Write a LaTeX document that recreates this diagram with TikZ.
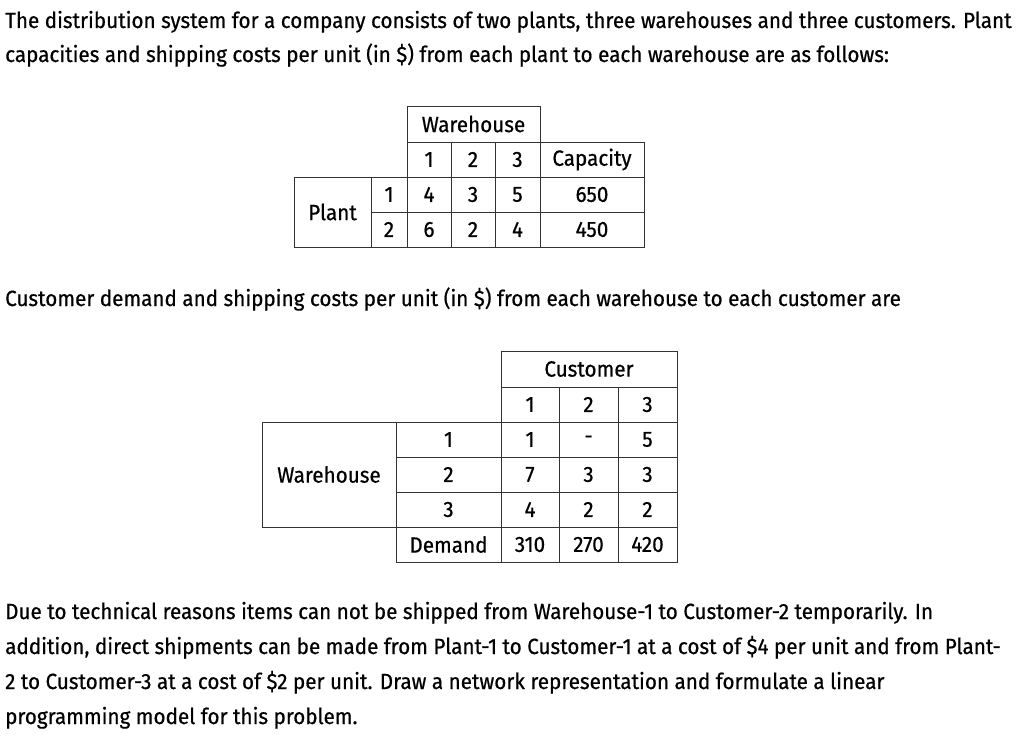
\documentclass[tikz,border=0pt]{standalone}
\usepackage{fontspec}
\setmainfont[FakeStretch=0.94,FakeBold=0.6]{Fira Sans}
\begin{document}
\begin{tikzpicture}[x=1pt,y=-1pt,
  txt/.style={anchor=base west,inner sep=0pt,font=\fontsize{22}{24}\selectfont},
  cell/.style={anchor=center,inner sep=0pt,font=\fontsize{22}{24}\selectfont},
  grid/.style={draw=black!80,line width=0.8pt}]
\useasboundingbox (0,0) rectangle (1024,749);
\node[txt] (l1) at (5,28) {The distribution system for a company consists of two plants, three warehouses and three customers. Plant};
\node[txt] (l2) at (5,62) {capacities and shipping costs per unit (in \$) from each plant to each warehouse are as follows:};
\node[txt] (l3) at (5,306) {Customer demand and shipping costs per unit (in \$) from each warehouse to each customer are};
\node[txt] (l4) at (5,619) {Due to technical reasons items can not be shipped from Warehouse-1 to Customer-2 temporarily. In};
\node[txt] (l5) at (5,654) {addition, direct shipments can be made from Plant-1 to Customer-1 at a cost of \$4 per unit and from Plant-};
\node[txt] (l6) at (5,689) {2 to Customer-3 at a cost of \$2 per unit. Draw a network representation and formulate a linear};
\node[txt] (l7) at (5,724) {programming model for this problem.};
% table 1
\draw[grid] (407,106) rectangle (540,142);
\draw[grid] (407,142) rectangle (644,247);
\draw[grid] (294,177) rectangle (407,247);
\draw[grid] (407,177) -- (644,177) (371,212) -- (644,212) (371,177) -- (371,247);
\draw[grid] (451,142) -- (451,247) (495,142) -- (495,247) (540,142) -- (540,247);
\node[cell] (t1w) at (473.5,124) {Warehouse};
\node[cell] (t1a) at (429,159.5) {1};
\node[cell] (t1b) at (473,159.5) {2};
\node[cell] (t1c) at (517.5,159.5) {3};
\node[cell] (t1cap) at (592,159.5) {Capacity};
\node[cell] (t1p) at (332.5,212) {Plant};
\node[cell] (t1r1) at (389,194.5) {1};
\node[cell] (t1r2) at (389,229.5) {2};
\node[cell] (c11) at (429,194.5) {4};
\node[cell] (c12) at (473,194.5) {3};
\node[cell] (c13) at (517.5,194.5) {5};
\node[cell] (c14) at (592,194.5) {650};
\node[cell] (c21) at (429,229.5) {6};
\node[cell] (c22) at (473,229.5) {2};
\node[cell] (c23) at (517.5,229.5) {4};
\node[cell] (c24) at (592,229.5) {450};
% table 2
\draw[grid] (501,351) rectangle (677,387);
\draw[grid] (501,387) rectangle (677,562);
\draw[grid] (262,422) rectangle (396,527);
\draw[grid] (396,422) rectangle (501,562);
\draw[grid] (501,422) -- (677,422) (396,457) -- (677,457) (396,492) -- (677,492) (396,527) -- (677,527);
\draw[grid] (559,387) -- (559,562) (618,387) -- (618,562);
\node[cell] (cu) at (589,369) {Customer};
\node[cell] (h1) at (530,404.5) {1};
\node[cell] (h2) at (588.5,404.5) {2};
\node[cell] (h3) at (647.5,404.5) {3};
\node[cell] (wh) at (329,474.5) {Warehouse};
\node[cell] (r1) at (448.5,439.5) {1};
\node[cell] (r2) at (448.5,474.5) {2};
\node[cell] (r3) at (448.5,509.5) {3};
\node[cell] (rd) at (448.5,544.5) {Demand};
\node[cell] (d11) at (530,439.5) {1};
\node[cell] (d12) at (588.5,439.5) {-};
\node[cell] (d13) at (647.5,439.5) {5};
\node[cell] (d21) at (530,474.5) {7};
\node[cell] (d22) at (588.5,474.5) {3};
\node[cell] (d23) at (647.5,474.5) {3};
\node[cell] (d31) at (530,509.5) {4};
\node[cell] (d32) at (588.5,509.5) {2};
\node[cell] (d33) at (647.5,509.5) {2};
\node[cell] (dd1) at (530,544.5) {310};
\node[cell] (dd2) at (588.5,544.5) {270};
\node[cell] (dd3) at (647.5,544.5) {420};
\end{tikzpicture}
\end{document}
